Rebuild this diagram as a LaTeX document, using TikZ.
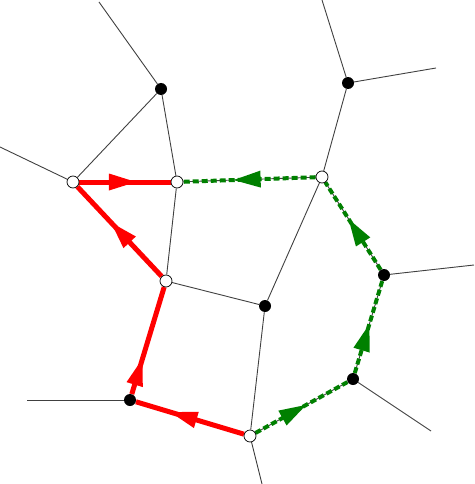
\documentclass[tikz,border=0pt]{standalone}
\usetikzlibrary{decorations.markings,backgrounds}
\begin{document}
\begin{tikzpicture}[x=1pt,y=-1pt,
 wnode/.style={circle,draw=black,fill=white,inner sep=0pt,minimum size=12pt,line width=0.7pt},
 bnode/.style={circle,fill=black,inner sep=0pt,minimum size=12pt},
 edge/.style={draw=black!75,line width=0.9pt},
 redp/.style={draw=red,line width=5pt},
 greenp/.style={draw=green!50!black,line width=4pt,dash pattern=on 6pt off 3pt},
 rarr/.style={postaction={decorate,decoration={markings,mark=at position #1 with {\fill[red] (0pt,0pt) -- (-27pt,8.5pt) -- (-27pt,-8.5pt) -- cycle;}}}},
 garr/.style={postaction={decorate,decoration={markings,mark=at position #1 with {\fill[green!50!black] (0pt,0pt) -- (-27pt,8.5pt) -- (-27pt,-8.5pt) -- cycle;}}}},
]
\useasboundingbox (0,0) rectangle (474,484);
% nodes
\node[bnode] (A) at (161,89) {};
\node[bnode] (B) at (348,83) {};
\node[wnode] (C) at (73,182) {};
\node[wnode] (D) at (177,182) {};
\node[wnode] (E) at (322,177) {};
\node[wnode] (F) at (166,281) {};
\node[bnode] (G) at (265,306) {};
\node[bnode] (H) at (384,275) {};
\node[bnode] (I) at (353,379) {};
\node[bnode] (J) at (130,400) {};
\node[wnode] (K) at (250,436) {};
% free ends
\coordinate (a1) at (99,2);
\coordinate (b1) at (322,0);
\coordinate (b2) at (436,68);
\coordinate (c1) at (0,147);
\coordinate (h1) at (474,265);
\coordinate (i1) at (431,431);
\coordinate (j1) at (27,400);
\coordinate (k1) at (262,484);
\begin{pgfonlayer}{background}
\draw[edge] (A) -- (a1);
\draw[edge] (A) -- (C);
\draw[edge] (A) -- (D);
\draw[edge] (B) -- (b1);
\draw[edge] (B) -- (b2);
\draw[edge] (B) -- (E);
\draw[edge] (C) -- (c1);
\draw[edge] (D) -- (E);
\draw[edge] (D) -- (F);
\draw[edge] (E) -- (G);
\draw[edge] (E) -- (H);
\draw[edge] (F) -- (G);
\draw[edge] (G) -- (K);
\draw[edge] (H) -- (h1);
\draw[edge] (H) -- (I);
\draw[edge] (I) -- (i1);
\draw[edge] (I) -- (K);
\draw[edge] (J) -- (j1);
\draw[edge] (K) -- (k1);
% red path
\draw[redp,rarr=0.62] (C) -- (D);
\draw[redp,rarr=0.6] (F) -- (C);
\draw[redp,rarr=0.33] (J) -- (F);
\draw[redp,rarr=0.68] (K) -- (J);
% green path
\draw[greenp,garr=0.55] (K) -- (I);
\draw[greenp,garr=0.53] (I) -- (H);
\draw[greenp,garr=0.58] (H) -- (E);
\draw[greenp,garr=0.62] (E) -- (D);
\end{pgfonlayer}
\end{tikzpicture}
\end{document}
